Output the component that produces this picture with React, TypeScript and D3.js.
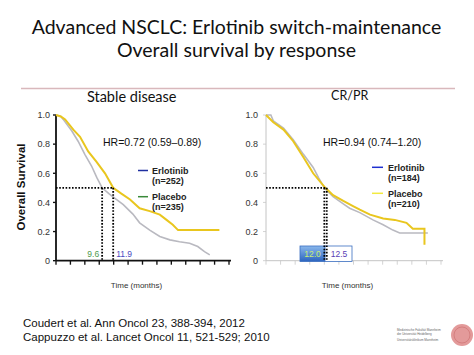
import React from "react";
import * as d3 from "d3";

// ---- Data ----
const monthTicks = [0, 3, 6, 9, 12, 15, 18, 21, 24, 27, 30, 33, 36];
const survTicks = [1.0, 0.8, 0.6, 0.4, 0.2, 0];
const survTickLabels = ["1.0", "0.8", "0.6", "0.4", "0.2", "0"];

// Stable disease
const sdErlMonths = [0, 1, 1.9, 3.6, 5, 6.7, 8.4, 10.2, 11.9, 13.6, 15.4, 17.4, 19.5, 21.6, 23, 24.3, 25.4, 34];
const sdErlSurv = [1, 0.99, 0.97, 0.9, 0.85, 0.75, 0.68, 0.6, 0.5, 0.46, 0.42, 0.36, 0.34, 0.316, 0.28, 0.247, 0.21, 0.21];
const sdPlaMonths = [0, 1, 1.5, 3.3, 4.6, 6, 7.4, 8.5, 9.6, 11, 12.2, 14, 16, 17.4, 19.5, 21.6, 23.7, 25.7, 27.8, 29.5, 30.9, 32];
const sdPlaSurv = [1, 0.99, 0.97, 0.89, 0.82, 0.73, 0.65, 0.57, 0.5, 0.46, 0.43, 0.385, 0.32, 0.26, 0.21, 0.166, 0.143, 0.13, 0.12, 0.097, 0.062, 0.04];

// CR/PR
const crErlMonths = [0, 1.5, 3.6, 5.6, 7.7, 9.7, 12.2, 13.8, 15.9, 17.9, 19.3, 21.4, 24.1, 26.5, 28.9, 30.2, 32.6, 32.6];
const crErlSurv = [1, 0.95, 0.9, 0.82, 0.71, 0.6, 0.5, 0.45, 0.41, 0.375, 0.35, 0.316, 0.29, 0.28, 0.26, 0.22, 0.22, 0.11];
const crPlaMonths = [0, 1, 1.5, 3.6, 5.6, 7.7, 9.7, 10.8, 12.0, 13.8, 15.9, 17.2, 19.3, 22, 24.1, 26.1, 27.5, 33.3];
const crPlaSurv = [1, 1, 0.96, 0.91, 0.83, 0.73, 0.64, 0.57, 0.5, 0.44, 0.39, 0.36, 0.33, 0.28, 0.247, 0.21, 0.19, 0.19];

type Pt = [number, number];
const zip = (a: number[], b: number[]): Pt[] => a.map((v, i) => [v, b[i]]);

interface PanelProps {
  x0: number;
  x1: number;
  axisColor: string;
  axisWidth: number;
  labelX: number;
  erl: Pt[];
  pla: Pt[];
  render: (x: d3.ScaleLinear<number, number>, y: d3.ScaleLinear<number, number>) => React.ReactNode;
}

const Y0 = 260.7;
const Y1 = 115;

function Panel({ x0, x1, axisColor, axisWidth, labelX, erl, pla, render }: PanelProps) {
  const x = d3.scaleLinear().domain([0, 36]).range([x0, x1]);
  const y = d3.scaleLinear().domain([0, 1]).range([Y0, Y1]);
  const line = d3
    .line<Pt>()
    .x((d) => x(d[0]))
    .y((d) => y(d[1]))
    .curve(d3.curveLinear);
  return (
    <g>
      <line x1={x0} x2={x0} y1={Y1} y2={Y0} stroke={axisColor} strokeWidth={axisWidth} />
      {survTicks.map((t, i) => (
        <g key={"yt" + i}>
          <line x1={x0 - 3} x2={x0} y1={y(t)} y2={y(t)} stroke={axisColor} strokeWidth={axisWidth * 0.75} />
          <text
            x={labelX}
            y={y(t) + 3.3}
            textAnchor="end"
            fontSize={9}
            fill="#333"
            fontFamily="Liberation Sans, Arial, sans-serif"
          >
            {survTickLabels[i]}
          </text>
        </g>
      ))}
      <line x1={x0} x2={x(36) + 2} y1={Y0} y2={Y0} stroke={axisColor} strokeWidth={axisWidth} />
      {monthTicks.map((t) => (
        <line key={"xt" + t} x1={x(t)} x2={x(t)} y1={Y0} y2={Y0 + 4} stroke={axisColor} strokeWidth={axisWidth * 0.75} />
      ))}
      <path d={line(pla) || ""} fill="none" stroke="#b9b9c0" strokeWidth={1.6} />
      <path d={line(erl) || ""} fill="none" stroke="#e9c61e" strokeWidth={2} />
      {render(x, y)}
      <text
        x={(x0 + x1) / 2 - 6}
        y={288}
        textAnchor="middle"
        fontSize={8}
        fill="#333"
        fontFamily="Liberation Sans, Arial, sans-serif"
      >
        Time (months)
      </text>
    </g>
  );
}

const dotted = { stroke: "#000", strokeWidth: 1.8, strokeDasharray: "1.6 1.6", fill: "none" };

export default function App() {
  const sans = "Liberation Sans, Arial, sans-serif";
  const cal = "Lato, 'Open Sans', sans-serif";
  return (
    <svg width={474} height={355} style={{ position: "absolute", left: 0, top: 0, background: "#fff" }}>
      <rect width={474} height={355} fill="#fff" />
      <text x={236.5} y={33.5} textAnchor="middle" fontSize={19.5} fontFamily={cal} fill="#111">
        Advanced NSCLC: Erlotinib switch-maintenance
      </text>
      <text x={236.5} y={57} textAnchor="middle" fontSize={19.5} fontFamily={cal} fill="#111">
        Overall survival by response
      </text>
      <line x1={21} x2={455} y1={88.5} y2={88.5} stroke="#d9b8bc" strokeWidth={1.5} />

      <text x={131.7} y={101.7} textAnchor="middle" fontSize={14.5} fontFamily={cal} fill="#111">
        Stable disease
      </text>
      <text x={349.7} y={99.5} textAnchor="middle" fontSize={12.5} fontFamily={cal} fill="#111">
        CR/PR
      </text>

      <text
        transform="translate(25,187) rotate(-90)"
        textAnchor="middle"
        fontSize={11.5}
        fontWeight="bold"
        fontFamily={sans}
        fill="#111"
      >
        Overall Survival
      </text>

      <Panel
        x0={56}
        x1={229}
        axisColor="#111"
        axisWidth={1.8}
        labelX={50}
        erl={zip(sdErlMonths, sdErlSurv)}
        pla={zip(sdPlaMonths, sdPlaSurv)}
        render={(x, y) => (
          <g>
            <path d={`M${x(0)},${y(0.5)}H${x(11.9)}`} {...dotted} />
            <path d={`M${x(9.6)},${y(0.5)}V${y(0)}`} {...dotted} />
            <path d={`M${x(11.9)},${y(0.5)}V${y(0)}`} {...dotted} />
            <text x={x(9.6) - 3} y={257} textAnchor="end" fontSize={8.5} fill="#4d9a4d" fontFamily={sans}>
              9.6
            </text>
            <text x={x(11.9) + 3} y={257} fontSize={8.5} fill="#4a4ac0" fontFamily={sans}>
              11.9
            </text>
            <text x={103} y={145.5} fontSize={10.5} fill="#111" fontFamily={sans}>
              HR=0.72 (0.59–0.89)
            </text>
            <line x1={138} x2={148} y1={170.5} y2={170.5} stroke="#1f2fa0" strokeWidth={1.5} />
            <text x={152} y={174} fontSize={9} fontWeight="bold" fill="#222" fontFamily={sans}>
              Erlotinib
            </text>
            <text x={152} y={183.5} fontSize={9} fontWeight="bold" fill="#222" fontFamily={sans}>
              (n=252)
            </text>
            <line x1={138} x2={148} y1={196.7} y2={196.7} stroke="#3a8a3a" strokeWidth={1.5} />
            <text x={152} y={200} fontSize={9} fontWeight="bold" fill="#222" fontFamily={sans}>
              Placebo
            </text>
            <text x={152} y={210} fontSize={9} fontWeight="bold" fill="#222" fontFamily={sans}>
              (n=235)
            </text>
          </g>
        )}
      />

      <Panel
        x0={266}
        x1={441}
        axisColor="#c4c4c4"
        axisWidth={1}
        labelX={258}
        erl={zip(crErlMonths, crErlSurv)}
        pla={zip(crPlaMonths, crPlaSurv)}
        render={(x, y) => (
          <g>
            <defs>
              <linearGradient id="blueBox" x1="0" y1="0" x2="0" y2="1">
                <stop offset="0" stopColor="#8ab8ec" />
                <stop offset="1" stopColor="#2c64bf" />
              </linearGradient>
            </defs>
            <rect x={300} y={246} width={25} height={15.5} fill="url(#blueBox)" stroke="#3a6ec0" strokeWidth={0.8} />
            <rect x={325} y={246} width={27} height={15.5} fill="#fff" stroke="#3a6ec0" strokeWidth={0.8} />
            <text x={312.5} y={257} textAnchor="middle" fontSize={8.5} fill="#c9ee74" fontFamily={sans}>
              12.0
            </text>
            <text x={339} y={257} textAnchor="middle" fontSize={8.5} fill="#5a3fb5" fontFamily={sans}>
              12.5
            </text>
            <path d={`M${x(0)},${y(0.5)}H${x(12.5)}`} {...dotted} />
            <path d={`M${x(12.0)},${y(0.5)}V${y(0)}`} {...dotted} />
            <path d={`M${x(12.5)},${y(0.5)}V${y(0)}`} {...dotted} />
            <text x={323} y={145.5} fontSize={10.5} fill="#111" fontFamily={sans}>
              HR=0.94 (0.74–1.20)
            </text>
            <line x1={372} x2={383} y1={167.3} y2={167.3} stroke="#1f2fd0" strokeWidth={1.5} />
            <text x={388} y={170.8} fontSize={9} fontWeight="bold" fill="#222" fontFamily={sans}>
              Erlotinib
            </text>
            <text x={388} y={180.5} fontSize={9} fontWeight="bold" fill="#222" fontFamily={sans}>
              (n=184)
            </text>
            <line x1={372} x2={383} y1={193.3} y2={193.3} stroke="#f2ea40" strokeWidth={1.5} />
            <text x={388} y={196.8} fontSize={9} fontWeight="bold" fill="#222" fontFamily={sans}>
              Placebo
            </text>
            <text x={388} y={207} fontSize={9} fontWeight="bold" fill="#222" fontFamily={sans}>
              (n=210)
            </text>
          </g>
        )}
      />

      <text x={23} y={327} fontSize={11.5} fill="#111" fontFamily={sans}>
        Coudert et al. Ann Oncol 23, 388-394, 2012
      </text>
      <text x={23} y={341} fontSize={11.5} fill="#111" fontFamily={sans}>
        Cappuzzo et al. Lancet Oncol 11, 521-529; 2010
      </text>

      <g fontFamily={sans} fill="#666">
        <text x={397} y={331} fontSize={3}>Medizinische Fakultät Mannheim</text>
        <text x={397} y={335} fontSize={3}>der Universität Heidelberg</text>
        <text x={397} y={341} fontSize={3}>Universitätsklinikum Mannheim</text>
      </g>
      <circle cx={462} cy={335} r={11} fill="#e39a9a" />
      <circle cx={462} cy={335} r={8} fill="none" stroke="#d07878" strokeWidth={0.8} />
    </svg>
  );
}
